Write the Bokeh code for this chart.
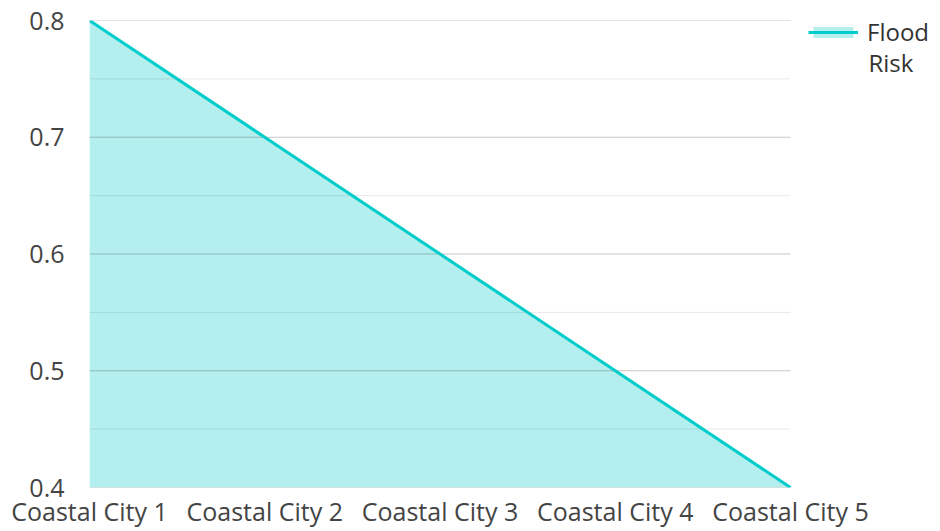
from bokeh.plotting import figure
from bokeh.models import Legend, LegendItem, FixedTicker, Range1d, Label
from bokeh.embed import file_html
from bokeh.resources import INLINE

cities = ["Coastal City 1", "Coastal City 2", "Coastal City 3", "Coastal City 4", "Coastal City 5"]
flood_risk = [0.8, 0.7, 0.6, 0.5, 0.4]
y_ticks = [0.4, 0.5, 0.6, 0.7, 0.8]
y_minor = [0.45, 0.55, 0.65, 0.75]

xs = list(range(len(cities)))
n_last = len(cities) - 1

# plot area spans 89..790 px for the categories; extend the frame to the right
# edge so the legend can sit inside it
W, H = 940, 531
left, top, bottom = 89, 20, 44
cat_px = 701
frame_w = W - left
frame_h = H - top - bottom
x_end = n_last * frame_w / cat_px

p = figure(width=W, height=H, output_backend="svg", toolbar_location=None,
           x_range=Range1d(0, x_end), y_range=Range1d(0.4, 0.8),
           min_border_left=left, min_border_right=0, min_border_top=top,
           min_border_bottom=bottom)
p.outline_line_color = None
p.background_fill_color = "white"
p.border_fill_color = "white"
p.xgrid.grid_line_color = None
p.ygrid.grid_line_color = None

area = p.varea(x=xs, y1=[0.4] * len(xs), y2=flood_risk, fill_color="#b2efee", fill_alpha=1.0)

# grid lines over the fill, limited to the category span
for v in y_minor:
    p.line([0, n_last], [v, v], line_color="#000000", line_alpha=0.09, line_width=1)
for v in y_ticks:
    p.line([0, n_last], [v, v], line_color="#000000", line_alpha=0.22, line_width=1)

ln = p.line(xs, flood_risk, line_color="#00cccc", line_width=3)

p.xaxis.ticker = FixedTicker(ticks=xs)
p.xaxis.major_label_overrides = {i: c for i, c in enumerate(cities)}
p.yaxis.ticker = FixedTicker(ticks=y_ticks)
for ax in (p.xaxis[0], p.yaxis[0]):
    ax.axis_line_color = None
    ax.major_tick_line_color = None
    ax.minor_tick_line_color = None
    ax.major_label_text_font = "Open Sans"
    ax.major_label_text_font_size = "25px"
    ax.major_label_text_color = "#444444"
p.xaxis.major_label_standoff = 0
p.yaxis.major_label_standoff = 19

legend = Legend(items=[LegendItem(label="Flood", renderers=[area, ln])],
                location=(808 - left, frame_h - 28), orientation="vertical",
                label_text_font="Open Sans", label_text_font_size="24px",
                label_text_color="#333333", glyph_width=50, glyph_height=14,
                label_standoff=9, padding=0, margin=0, border_line_color=None,
                background_fill_alpha=0)
p.add_layout(legend, "center")

risk_y = 0.8 - (62 - top) / frame_h * 0.4
risk_x = (868 - left) / cat_px * n_last
p.add_layout(Label(x=risk_x, y=risk_y, text="Risk", text_font="Open Sans",
                   text_font_size="24px", text_color="#333333",
                   text_baseline="middle", text_align="left"))

open("out.html", "w").write(file_html(p, INLINE))
